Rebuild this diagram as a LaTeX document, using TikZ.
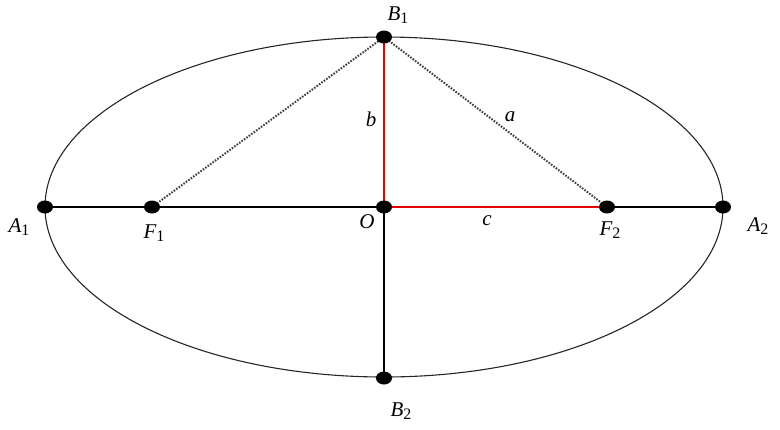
\documentclass[tikz,border=0pt]{standalone}
\usepackage{fontspec}
\setmainfont{Liberation Serif}
\newcommand{\subx}[1]{\raisebox{-0.35ex}{\fontsize{16}{18}\selectfont\upshape #1}}
\begin{document}
\begin{tikzpicture}[x=1pt,y=-1pt,
  lbl/.style={font=\fontsize{21}{24}\selectfont\itshape,inner sep=0pt},
  axis/.style={black,line width=1.4pt},
  redl/.style={red!90!black,line width=1.6pt},
  dotl/.style={black!75,line width=2pt,dash pattern=on 1.6pt off 1.4pt}]
\useasboundingbox (0,0) rectangle (780,429);
\draw[black!85,line width=1.1pt] (384,207) ellipse [x radius=339, y radius=170];
\coordinate (O) at (384,207);
\coordinate (A1) at (45,207);
\coordinate (A2) at (723,207);
\coordinate (B1) at (384,37);
\coordinate (B2) at (384,378);
\coordinate (F1) at (152,207);
\coordinate (F2) at (607,207);
\draw[axis] (A1) -- (O);
\draw[axis] (F2) -- (A2);
\draw[axis] (O) -- (B2);
\draw[dotl] (F1) -- (B1);
\draw[dotl] (B1) -- (F2);
\draw[redl] (B1) -- (O);
\draw[redl] (O) -- (F2);
\foreach \p in {O,A1,A2,B1,B2,F1,F2} \fill (\p) ellipse [x radius=8, y radius=6.5];
\node[lbl] (lB1) at (398,15) {B\subx{1}};
\node[lbl] (lB2) at (401,411) {B\subx{2}};
\node[lbl] (lA1) at (19,227) {A\subx{1}};
\node[lbl] (lA2) at (758,226) {A\subx{2}};
\node[lbl] (lF1) at (154,233) {F\subx{1}};
\node[lbl] (lF2) at (610,230) {F\subx{2}};
\node[lbl] (lO) at (367,222) {O};
\node[lbl] (lc) at (487,221) {c};
\node[lbl] (lb) at (371,119) {b};
\node[lbl] (la) at (510,117) {a};
\end{tikzpicture}
\end{document}
